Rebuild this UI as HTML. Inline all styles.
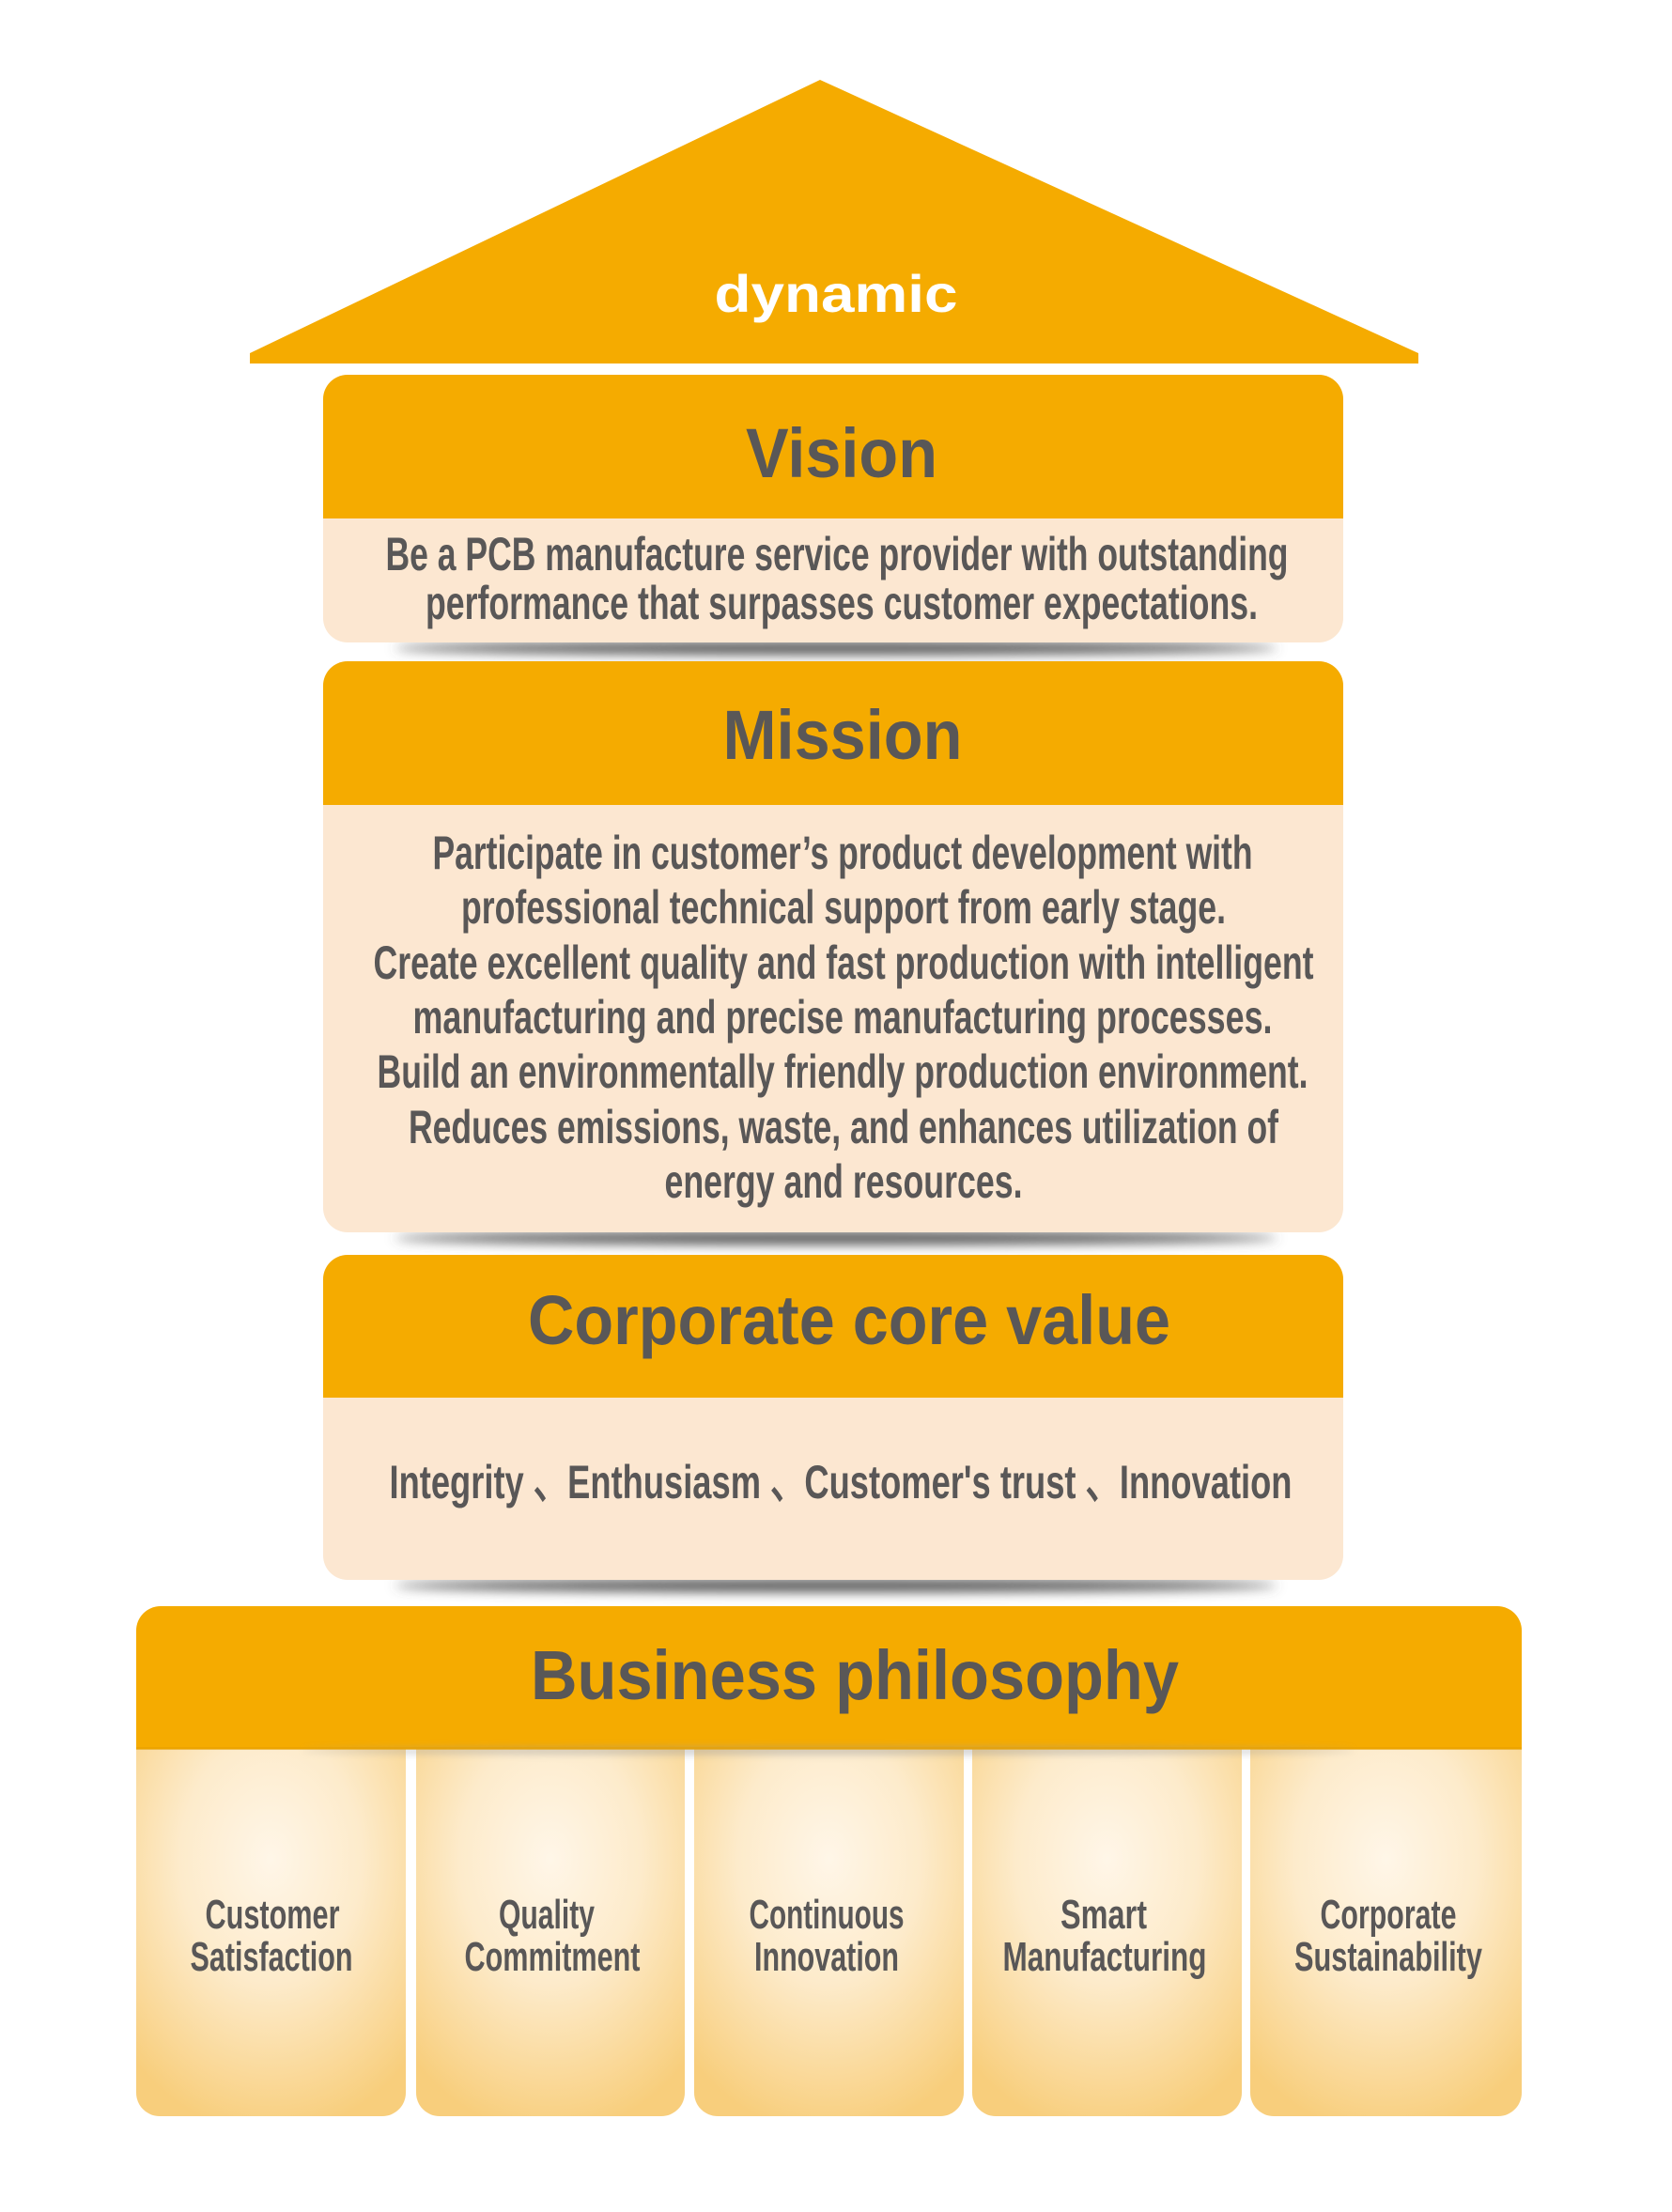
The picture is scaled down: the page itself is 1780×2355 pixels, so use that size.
<!DOCTYPE html>
<html><head><meta charset="utf-8"><style>
html,body{margin:0;padding:0;background:#fff;}
svg{display:block;}
.t{font-family:"Liberation Sans",sans-serif;fill:#595757;}
.h{font-weight:bold;font-size:74px;}
.b{font-size:50px;font-weight:bold;}
.p{font-size:44px;font-weight:bold;}
</style></head><body>
<svg width="1780" height="2355" viewBox="0 0 1780 2355" xmlns="http://www.w3.org/2000/svg">
<defs>
<filter id="blur" x="-20%" y="-200%" width="140%" height="500%"><feGaussianBlur stdDeviation="6"/></filter>
<filter id="blur2" x="-20%" y="-200%" width="140%" height="500%"><feGaussianBlur stdDeviation="4"/></filter>
<radialGradient id="pg" cx="0.5" cy="0.3" r="0.75">
<stop offset="0" stop-color="#FFF6E8"/>
<stop offset="0.45" stop-color="#FDEBCB"/>
<stop offset="1" stop-color="#F8CE7C"/>
</radialGradient>
</defs>
<!-- roof -->
<polygon points="873,85 1510,376 1510,387 266,387 266,376" fill="#F5AB00"/>
<text x="890" y="332" font-family="Liberation Sans,sans-serif" font-size="56" font-weight="bold" fill="#fff" text-anchor="middle" textLength="259" lengthAdjust="spacingAndGlyphs">dynamic</text>

<!-- shadows -->
<ellipse cx="890" cy="690" rx="470" ry="7" fill="#555" filter="url(#blur)"/>
<ellipse cx="890" cy="1318" rx="470" ry="7" fill="#555" filter="url(#blur)"/>
<ellipse cx="890" cy="1688" rx="470" ry="7" fill="#555" filter="url(#blur)"/>

<!-- Vision -->
<rect x="344" y="399" width="1086" height="285" rx="26" fill="#FCE7D1"/>
<path d="M344,552 V425 a26,26 0 0 1 26,-26 H1404 a26,26 0 0 1 26,26 V552 Z" fill="#F5AB00"/>
<text class="t h" x="896" y="508" text-anchor="middle" textLength="204" lengthAdjust="spacingAndGlyphs">Vision</text>
<text class="t b" x="891" y="607" text-anchor="middle" textLength="961" lengthAdjust="spacingAndGlyphs">Be a PCB manufacture service provider with outstanding</text>
<text class="t b" x="896" y="659" text-anchor="middle" textLength="886" lengthAdjust="spacingAndGlyphs">performance that surpasses customer expectations.</text>

<!-- Mission -->
<rect x="344" y="704" width="1086" height="608" rx="26" fill="#FCE7D1"/>
<path d="M344,857 V730 a26,26 0 0 1 26,-26 H1404 a26,26 0 0 1 26,26 V857 Z" fill="#F5AB00"/>
<text class="t h" x="897" y="808" text-anchor="middle" textLength="255" lengthAdjust="spacingAndGlyphs">Mission</text>
<text class="t b" x="897" y="925" text-anchor="middle" textLength="873" lengthAdjust="spacingAndGlyphs">Participate in customer’s product development with</text>
<text class="t b" x="898" y="983" text-anchor="middle" textLength="814" lengthAdjust="spacingAndGlyphs">professional technical support from early stage.</text>
<text class="t b" x="898" y="1042" text-anchor="middle" textLength="1001" lengthAdjust="spacingAndGlyphs">Create excellent quality and fast production with intelligent</text>
<text class="t b" x="897" y="1100" text-anchor="middle" textLength="915" lengthAdjust="spacingAndGlyphs">manufacturing and precise manufacturing processes.</text>
<text class="t b" x="897" y="1158" text-anchor="middle" textLength="991" lengthAdjust="spacingAndGlyphs">Build an environmentally friendly production environment.</text>
<text class="t b" x="898" y="1217" text-anchor="middle" textLength="926" lengthAdjust="spacingAndGlyphs">Reduces emissions, waste, and enhances utilization of</text>
<text class="t b" x="898" y="1275" text-anchor="middle" textLength="381" lengthAdjust="spacingAndGlyphs">energy and resources.</text>

<!-- Core value -->
<rect x="344" y="1336" width="1086" height="346" rx="26" fill="#FCE7D1"/>
<path d="M344,1488 V1362 a26,26 0 0 1 26,-26 H1404 a26,26 0 0 1 26,26 V1488 Z" fill="#F5AB00"/>
<text class="t h" x="904" y="1431" text-anchor="middle" textLength="684" lengthAdjust="spacingAndGlyphs">Corporate core value</text>
<text class="t b" x="895" y="1595" text-anchor="middle" textLength="961" lengthAdjust="spacingAndGlyphs">Integrity 、Enthusiasm 、Customer's trust 、Innovation</text>

<!-- Business philosophy -->
<path d="M145,1862 V1736 a26,26 0 0 1 26,-26 H1594 a26,26 0 0 1 26,26 V1862 Z" fill="#F5AB00"/>
<text class="t h" x="910" y="1809" text-anchor="middle" textLength="690" lengthAdjust="spacingAndGlyphs">Business philosophy</text>

<g>
<path d="M145,1862 H432 V2228 a25,25 0 0 1 -25,25 H170 a25,25 0 0 1 -25,-25 Z" fill="url(#pg)"/>
<path d="M443,1862 H729 V2228 a25,25 0 0 1 -25,25 H468 a25,25 0 0 1 -25,-25 Z" fill="url(#pg)"/>
<path d="M739,1862 H1026 V2228 a25,25 0 0 1 -25,25 H764 a25,25 0 0 1 -25,-25 Z" fill="url(#pg)"/>
<path d="M1035,1862 H1322 V2228 a25,25 0 0 1 -25,25 H1060 a25,25 0 0 1 -25,-25 Z" fill="url(#pg)"/>
<path d="M1331,1862 H1620 V2228 a25,25 0 0 1 -25,25 H1356 a25,25 0 0 1 -25,-25 Z" fill="url(#pg)"/>
</g>
<ellipse cx="882" cy="1864" rx="560" ry="4" fill="#999" opacity="0.5" filter="url(#blur2)"/>
<rect x="145" y="1860" width="1475" height="3" fill="#E8A000" opacity="0.6"/>

<text class="t p" x="290" y="2053" text-anchor="middle" textLength="143" lengthAdjust="spacingAndGlyphs">Customer</text>
<text class="t p" x="289" y="2098" text-anchor="middle" textLength="173" lengthAdjust="spacingAndGlyphs">Satisfaction</text>
<text class="t p" x="582" y="2053" text-anchor="middle" textLength="102" lengthAdjust="spacingAndGlyphs">Quality</text>
<text class="t p" x="588" y="2098" text-anchor="middle" textLength="187" lengthAdjust="spacingAndGlyphs">Commitment</text>
<text class="t p" x="880" y="2053" text-anchor="middle" textLength="165" lengthAdjust="spacingAndGlyphs">Continuous</text>
<text class="t p" x="880" y="2098" text-anchor="middle" textLength="154" lengthAdjust="spacingAndGlyphs">Innovation</text>
<text class="t p" x="1175" y="2053" text-anchor="middle" textLength="92" lengthAdjust="spacingAndGlyphs">Smart</text>
<text class="t p" x="1176" y="2098" text-anchor="middle" textLength="217" lengthAdjust="spacingAndGlyphs">Manufacturing</text>
<text class="t p" x="1478" y="2053" text-anchor="middle" textLength="145" lengthAdjust="spacingAndGlyphs">Corporate</text>
<text class="t p" x="1478" y="2098" text-anchor="middle" textLength="200" lengthAdjust="spacingAndGlyphs">Sustainability</text>
</svg>
</body></html>
